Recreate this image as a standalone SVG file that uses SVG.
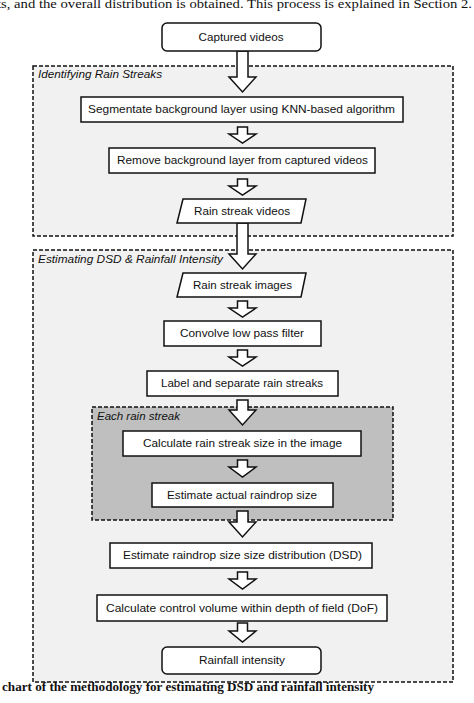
<svg xmlns="http://www.w3.org/2000/svg" width="474" height="703" viewBox="0 0 474 703">
<style>
.bg{fill:#ffffff}
.grp{fill:#f1f1f1;stroke:#111;stroke-width:1.5;stroke-dasharray:4 2}
.sub{fill:#bfbfbf;stroke:#111;stroke-width:1.5;stroke-dasharray:4 2}
.box{fill:#ffffff;stroke:#111;stroke-width:1.5}
.arr{fill:#ffffff;stroke:#111;stroke-width:1.5;stroke-linejoin:miter}
.lbl{font-family:"Liberation Sans",Arial,sans-serif;font-size:11.5px;fill:#111;text-anchor:middle}
.glbl{font-family:"Liberation Sans",Arial,sans-serif;font-size:11.5px;font-style:italic;fill:#111}
.body{font-family:"Liberation Serif","Times New Roman",serif;fill:#111}
</style>
<rect class="bg" x="0" y="0" width="474" height="703"/>
<text class="body" x="-3" y="8" font-size="13.5" textLength="475" lengthAdjust="spacingAndGlyphs">ts, and the overall distribution is obtained. This process is explained in Section 2.</text>

<g id="group-identifying">
<rect class="grp" x="33" y="66" width="420" height="170"/>
<text class="glbl" x="38" y="78" textLength="124" lengthAdjust="spacingAndGlyphs">Identifying Rain Streaks</text>
</g>
<g id="group-estimating">
<rect class="grp" x="33" y="250" width="420" height="432"/>
<text class="glbl" x="38" y="263" textLength="185" lengthAdjust="spacingAndGlyphs">Estimating DSD &amp; Rainfall Intensity</text>
</g>
<g id="group-each">
<rect class="sub" x="92" y="407" width="301" height="113"/>
<text class="glbl" x="97" y="420" textLength="83" lengthAdjust="spacingAndGlyphs">Each rain streak</text>
</g>

<g id="connectors">
<path class="arr" d="M237,51 H248 V77 H256 L242.5,92 L229,77 H237 Z"/>
<path class="arr" d="M237.5,127 H247.5 V134 H256 L242.5,143 L229,134 H237.5 Z"/>
<path class="arr" d="M237.5,179 H247.5 V186 H256 L242.5,195 L229,186 H237.5 Z"/>
<path class="arr" d="M237,223 H248 V254 H256 L242.5,269 L229,254 H237 Z"/>
<path class="arr" d="M237.5,301 H247.5 V308 H256 L242.5,317 L229,308 H237.5 Z"/>
<path class="arr" d="M237.5,350 H247.5 V357 H256 L242.5,366 L229,357 H237.5 Z"/>
<path class="arr" d="M237,400 H248 V410 H256 L242.5,425 L229,410 H237 Z"/>
<path class="arr" d="M237.5,460 H247.5 V467 H256 L242.5,477 L229,467 H237.5 Z"/>
<path class="arr" d="M237,511 H248 V522 H256 L242.5,537 L229,522 H237 Z"/>
<path class="arr" d="M237.5,572 H247.5 V579 H256 L242.5,589 L229,579 H237.5 Z"/>
<path class="arr" d="M237.5,623 H247.5 V631 H256 L242.5,642 L229,631 H237.5 Z"/>
</g>

<g id="n-captured">
<rect class="box" x="162" y="23" width="159" height="28" rx="5"/>
<text class="lbl" x="241" y="41" textLength="85" lengthAdjust="spacingAndGlyphs">Captured videos</text>
</g>
<g id="n-segmentate">
<rect class="box" x="81" y="97" width="322" height="25"/>
<text class="lbl" x="241.5" y="113" textLength="307" lengthAdjust="spacingAndGlyphs">Segmentate background layer using KNN-based algorithm</text>
</g>
<g id="n-remove">
<rect class="box" x="109" y="148" width="266" height="25"/>
<text class="lbl" x="242.5" y="164" textLength="251" lengthAdjust="spacingAndGlyphs">Remove background layer from captured videos</text>
</g>
<g id="n-rsvideos">
<path class="box" d="M183,199 H306 L301,223 H177 Z"/>
<text class="lbl" x="242" y="215" textLength="96" lengthAdjust="spacingAndGlyphs">Rain streak videos</text>
</g>
<g id="n-rsimages">
<path class="box" d="M183,273 H306 L301,297 H177 Z"/>
<text class="lbl" x="242.5" y="289" textLength="99" lengthAdjust="spacingAndGlyphs">Rain streak images</text>
</g>
<g id="n-convolve">
<rect class="box" x="164" y="321" width="157" height="25"/>
<text class="lbl" x="242" y="337" textLength="124" lengthAdjust="spacingAndGlyphs">Convolve low pass filter</text>
</g>
<g id="n-label">
<rect class="box" x="147" y="371" width="191" height="25"/>
<text class="lbl" x="242" y="387" textLength="162" lengthAdjust="spacingAndGlyphs">Label and separate rain streaks</text>
</g>
<g id="n-calcsize">
<rect class="box" x="123" y="431" width="238" height="25"/>
<text class="lbl" x="242.5" y="447" textLength="199" lengthAdjust="spacingAndGlyphs">Calculate rain streak size in the image</text>
</g>
<g id="n-actual">
<rect class="box" x="152" y="483" width="181" height="24"/>
<text class="lbl" x="242" y="499" textLength="150" lengthAdjust="spacingAndGlyphs">Estimate actual raindrop size</text>
</g>
<g id="n-dsd">
<rect class="box" x="110" y="543" width="262" height="25"/>
<text class="lbl" x="242.5" y="559" textLength="239" lengthAdjust="spacingAndGlyphs">Estimate raindrop size size distribution (DSD)</text>
</g>
<g id="n-control">
<rect class="box" x="97" y="595" width="290" height="26"/>
<text class="lbl" x="242" y="612" textLength="272" lengthAdjust="spacingAndGlyphs">Calculate control volume within depth of field (DoF)</text>
</g>
<g id="n-rainfall">
<rect class="box" x="162" y="647" width="159" height="27" rx="5"/>
<text class="lbl" x="242" y="664" textLength="86" lengthAdjust="spacingAndGlyphs">Rainfall intensity</text>
</g>

<text class="body" x="2" y="691" font-size="13" font-weight="bold" textLength="372" lengthAdjust="spacingAndGlyphs">chart of the methodology for estimating DSD and rainfall intensity</text>
</svg>
